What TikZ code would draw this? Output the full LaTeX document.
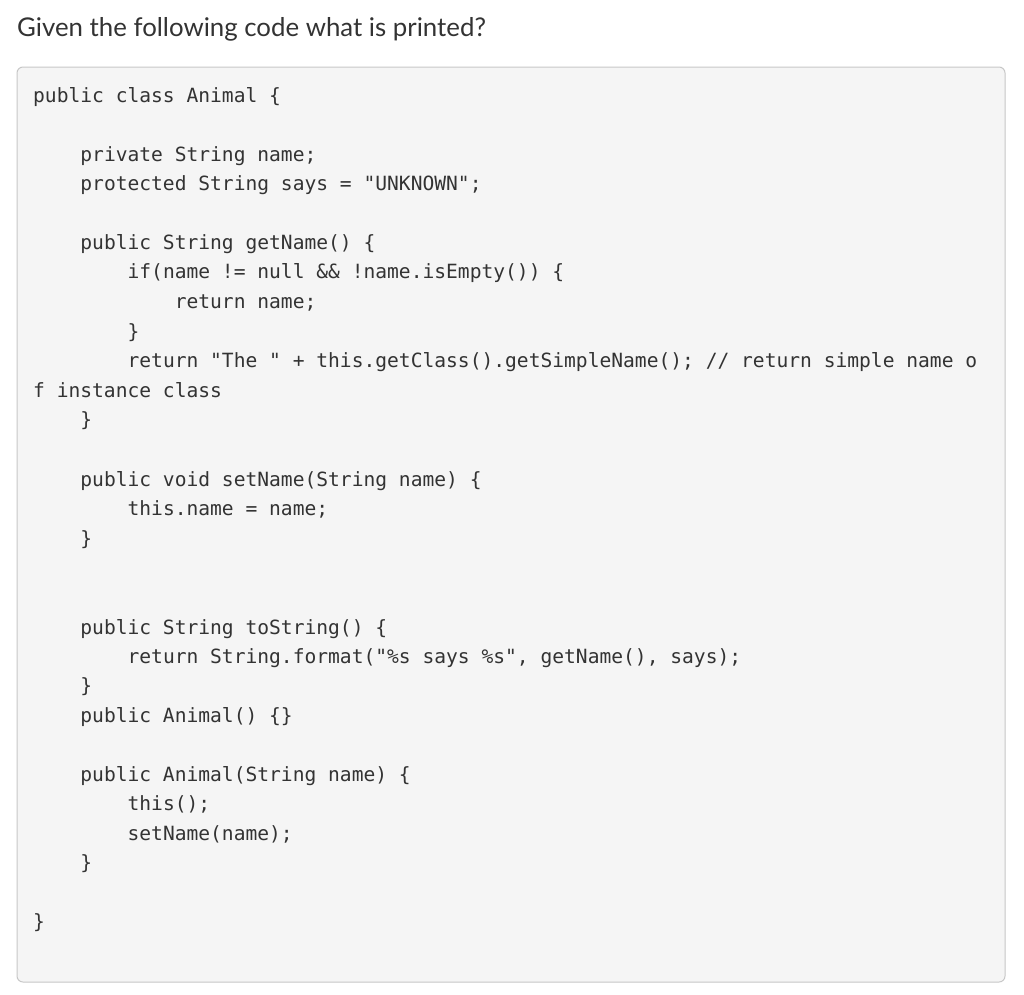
\documentclass[tikz,border=0pt]{standalone}
\usepackage{fontspec}
\setmainfont{Lato}
\setmonofont{DejaVu Sans Mono}
\begin{document}
\begin{tikzpicture}[x=1pt,y=1pt,
  code/.style={anchor=base west,inner sep=0pt,font=\fontsize{19.6}{19.6}\ttfamily,text=black!80}]
\useasboundingbox (0,0) rectangle (1024,-994);
\fill[white] (0,0) rectangle (1024,-994);
\node[anchor=base west,inner sep=0pt,font=\fontsize{25.8}{25.8}\selectfont,text=black!80] (title) at (17,-36) {Given the following code what is printed?};
\draw[draw=black!22,fill=black!4,rounded corners=6pt,line width=1pt] (17,-67) rectangle (1005,-982);
\def\cw{11.8}
\foreach \i/\y/\t [count=\n] in {
0/96/{public class Animal \{},
4/155/{private String name;},
4/184/{protected String says = "UNKNOWN";},
4/243/{public String getName() \{},
8/272/{if(name != null \&\& !name.isEmpty()) \{},
12/302/{return name;},
8/332/{\}},
8/361/{return "The " + this.getClass().getSimpleName(); // return simple name o},
0/391/{f instance class},
4/420/{\}},
4/480/{public void setName(String name) \{},
8/509/{this.name = name;},
4/539/{\}},
4/628/{public String toString() \{},
8/657/{return String.format("\%s says \%s", getName(), says);},
4/686/{\}},
4/716/{public Animal() \{\}},
4/775/{public Animal(String name) \{},
8/804/{this();},
8/834/{setName(name);},
4/863/{\}},
0/922/{\}}}
{ \node[code] (l\n) at ({33+\i*\cw},{-\y-6}) {\t}; }
\end{tikzpicture}
\end{document}
